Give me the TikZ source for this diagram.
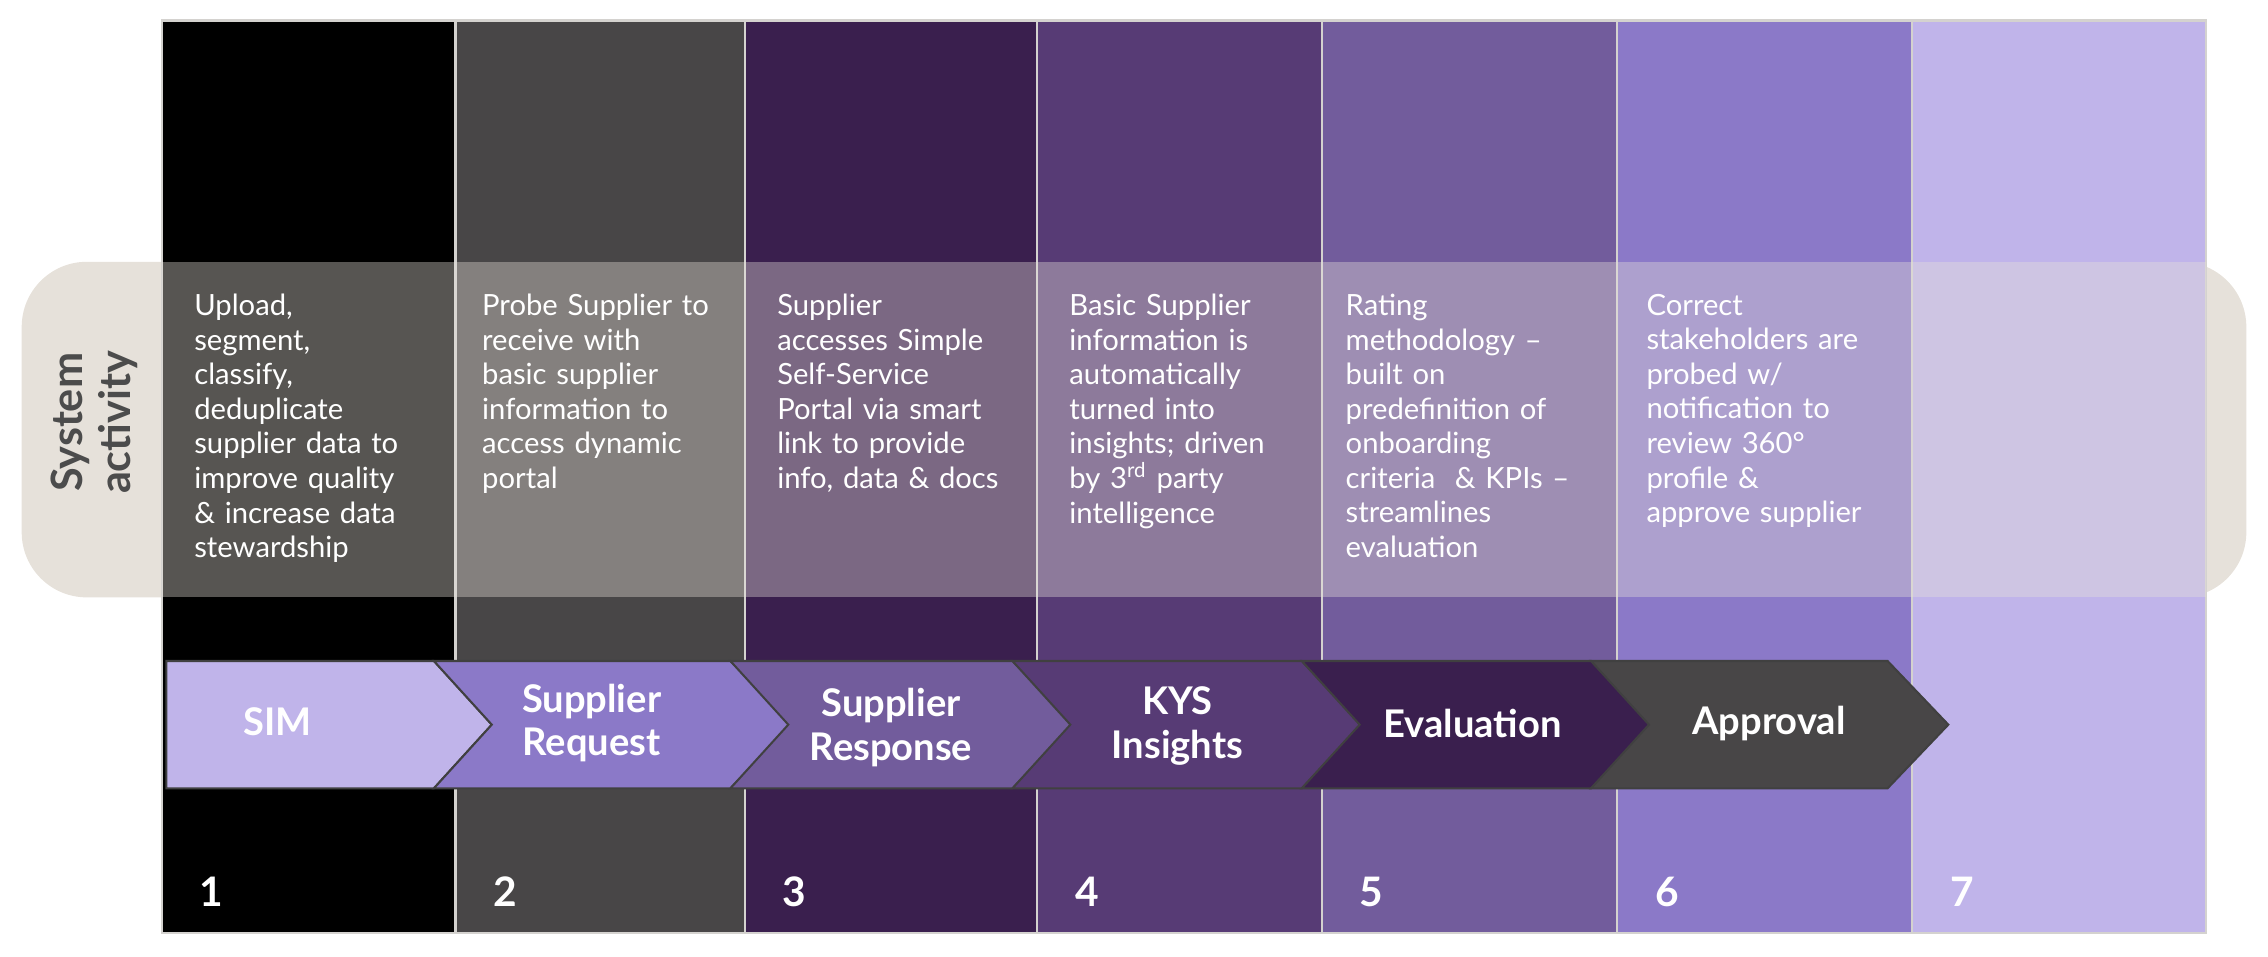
\documentclass[tikz,border=0pt]{standalone}
\usepackage{fontspec}
\setmainfont{Lato}
\usetikzlibrary{positioning}
\definecolor{colA}{HTML}{000000}
\definecolor{colB}{HTML}{484647}
\definecolor{colC}{HTML}{3A1F4E}
\definecolor{colD}{HTML}{573B75}
\definecolor{colE}{HTML}{725C9C}
\definecolor{colF}{HTML}{8B79C8}
\definecolor{colG}{HTML}{C0B4EA}
\definecolor{bandgray}{HTML}{E6E1DA}
\tikzset{
  activity/.style={anchor=north west, text=white, align=left, text width=3.4cm,
    font=\fontsize{11.5}{13.6}\selectfont, inner sep=0pt},
  stagelabel/.style={text=white, align=center, font=\fontsize{15}{17}\selectfont\bfseries},
  stepnum/.style={text=white, font=\fontsize{16}{18}\selectfont\rmfamily\bfseries},
  chevron/.style={draw=black!75, line width=0.8pt}
}
\begin{document}
\begin{tikzpicture}[x=0.02cm,y=-0.02cm]
\useasboundingbox (0,0) rectangle (1568,661);
% band behind columns
\fill[bandgray, rounded corners=0.9cm] (15,181) rectangle (1553,413);
% columns
\foreach \xa/\xb/\c [count=\i] in {112/315/colA,315/515/colB,515/717/colC,717/914/colD,914/1118/colE,1118/1322/colF,1322/1525/colG}{
  \fill[\c] (\xa,14) rectangle (\xb,645);
  \node[stepnum, anchor=base west] (num\i) at (\xa+20,627) {\i};
}
\foreach \x in {112,315,515,717,914,1118,1322,1525}
  \draw[bandgray!80!black!60, line width=1pt] (\x,14) -- (\x,645);
\draw[bandgray!80!black!60, line width=1pt] (112,14) rectangle (1525,645);
% translucent band over columns
\fill[bandgray, opacity=0.38] (112,181) rectangle (1525,413);
\node[rotate=90, text=black!70, font=\fontsize{17}{19}\selectfont\bfseries, align=center] (sysact) at (65,292) {System\\activity};
% activities
\node[activity] (act1) at (134,203) {Upload,\\segment,\\classify,\\deduplicate\\supplier data to\\improve quality\\\& increase data\\stewardship};
\node[activity] (act2) at (333,203) {Probe Supplier to\\receive with\\basic supplier\\information to\\access dynamic\\portal};
\node[activity] (act3) at (537,203) {Supplier\\accesses Simple\\Self-Service\\Portal via smart\\link to provide\\info, data \& docs};
\node[activity] (act4) at (739,203) {Basic Supplier\\information is\\automatically\\turned into\\insights; driven\\by 3\textsuperscript{rd} party\\intelligence};
\node[activity] (act5) at (930,203) {Rating\\methodology –\\built on\\predefinition of\\onboarding\\criteria \ \& KPIs –\\streamlines\\evaluation};
\node[activity] (act6) at (1138,203) {Correct\\stakeholders are\\probed w/\\notification to\\review 360°\\profile \&\\approve supplier};
% stages
\draw[chevron, fill=colG] (115,457) -- (300,457) -- (340,501) -- (300,545) -- (115,545) -- cycle;
\foreach \xa/\xb/\c/\n in {300/505/colF/req,505/700/colE/resp,700/900/colD/kys,900/1100/colC/eval,1100/1305/colB/appr}
  \draw[chevron, fill=\c] (\xa,457) -- (\xb,457) -- (\xb+42,501) -- (\xb,545) -- (\xa,545) -- (\xa+40,501) -- cycle;
\node[stagelabel] (sim) at (192,499) {SIM};
\node[stagelabel] (req) at (409,500) {Supplier\\Request};
\node[stagelabel] (resp) at (616,503) {Supplier\\Response};
\node[stagelabel] (kys) at (814,502) {KYS\\Insights};
\node[stagelabel] (eval) at (1018,500) {Evaluation};
\node[stagelabel] (appr) at (1223,500) {Approval};
\end{tikzpicture}
\end{document}
